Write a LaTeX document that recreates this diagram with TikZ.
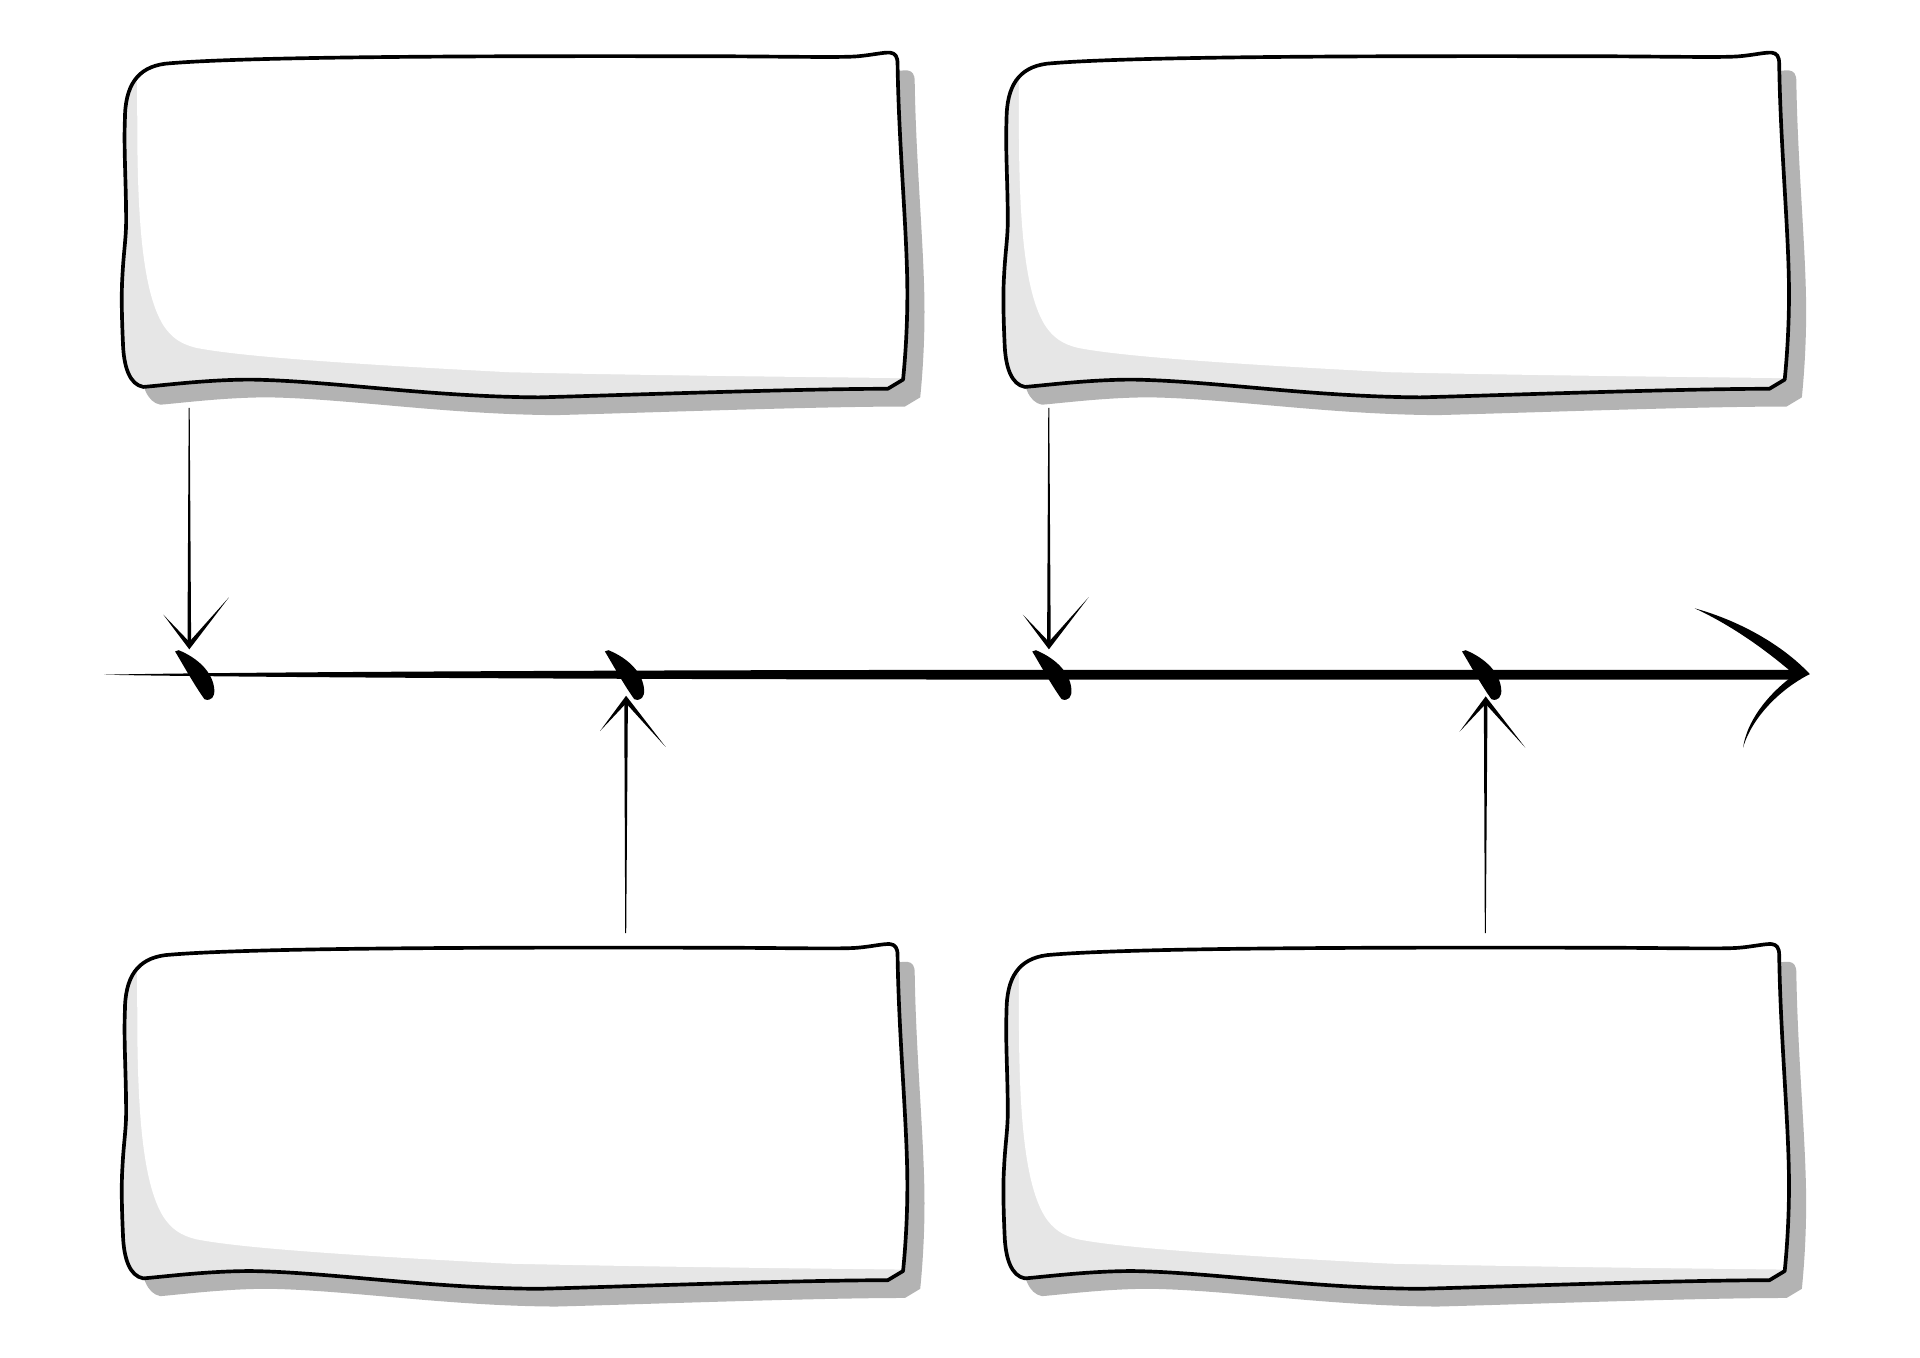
\documentclass[tikz,border=0pt]{standalone}
\usetikzlibrary{calc}
\definecolor{shadowgray}{HTML}{B3B3B3}
\definecolor{innergray}{HTML}{E6E6E6}
\def\boxoutline{(102,98) .. controls (102,70) and (112,55) .. (135,52) .. controls (200,46) and (400,45.5) .. (600,46) .. controls (650,46.3) and (688,47) .. (700,46) .. controls (712,45) and (722,42.5) .. (727,43) .. controls (731,43.5) and (733,46) .. (733,52) .. controls (734,120) and (741,190) .. (741,240) .. controls (741,270) and (739,295) .. (737.5,310) -- (725,317.5) .. controls (650,317.5) and (500,323) .. (440,324.5) .. controls (350,324) and (270,311) .. (205,310) .. controls (170,310) and (135,314.5) .. (117,316) .. controls (106,314) and (101,300) .. (100.4,280) .. controls (99.5,260) and (99,240) .. (100,225) .. controls (101,205) and (103,195) .. (103,180) .. controls (103,150) and (101,120) .. (102,98) -- cycle}
\def\whitearea{(111.8,30) -- (112.2,120) .. controls (113,190) and (118,240) .. (133,265) .. controls (140,276) and (148,281) .. (160,284) .. controls (190,290) and (260,296) .. (416,304) .. controls (550,307) and (680,308) .. (750,309) -- (750,30) -- cycle}
\def\tickshape{(143,532) .. controls (149,542) and (159,560) .. (167,571) .. controls (172.5,573) and (175.5,569) .. (175,563) .. controls (174,550) and (163,538) .. (146,531) -- cycle}
\newcommand\tlDown[2]{%
  \fill[ink] ($(#1)+(-0.4,0)$) -- ($(#1)+(0.4,0)$) -- ($(#2)+(1.5,-2)$) -- ($(#2)+(-1.5,-2)$) -- cycle;
  \fill[ink] ($(#2)+(-21.2,-27.5)$) -- ($(#2)+(0,-5.4)$) -- ($(#2)+(32.4,-41.7)$) -- ($(#2)+(0,0.8)$) -- cycle;}
\newcommand\tlUp[2]{%
  \fill[ink] ($(#1)+(-0.4,0)$) -- ($(#1)+(0.4,0)$) -- ($(#2)+(1.5,2)$) -- ($(#2)+(-1.5,2)$) -- cycle;
  \fill[ink] ($(#2)+(-21.3,28)$) -- ($(#2)+(0,5.4)$) -- ($(#2)+(32.3,41)$) -- ($(#2)+(0,-0.8)$) -- cycle;}
\tikzset{
  ink/.style={fill=black},
  boxshadow/.style={fill=shadowgray},
  boxinner/.style={fill=innergray},
  boxline/.style={draw=black, line width=3pt, line join=round}
}
\begin{document}
\begin{tikzpicture}[x=1pt,y=-1pt]
\useasboundingbox (0,0) rectangle (1568,1109);
\fill[white] (0,0) rectangle (1568,1109);
% boxes
\foreach \bx/\by in {0/0,720/0,0/728,720/728}{
  \begin{scope}[shift={(\bx,\by)}]
    \fill[boxshadow, shift={(14,14.5)}] \boxoutline;
    \fill[boxinner] \boxoutline;
    \begin{scope}
      \clip \boxoutline;
      \fill[white] \whitearea;
    \end{scope}
    \path[boxline] \boxoutline;
  \end{scope}
}
% timeline
\fill[ink] (85,551) .. controls (180,549) and (480,547.2) .. (850,547) -- (1470,547) -- (1470,555) -- (850,555) .. controls (480,554.8) and (180,553) .. (85,551) -- cycle;
\fill[ink] (1384,496.8) .. controls (1421,507) and (1456,527) .. (1478,550.5)
  .. controls (1455,562) and (1431,585) .. (1423.5,610.5)
  .. controls (1426.5,590) and (1442,568) .. (1465.5,551)
  .. controls (1446,534) and (1417,512) .. (1384,496.8) -- cycle;
% ticks
\foreach \dx in {0,351,700,1051}{
  \fill[ink, shift={(\dx,0)}] \tickshape;
}
% arrows
\coordinate (d1s) at (154.5,333);
\coordinate (d1t) at (154.6,529.5);
\coordinate (d2s) at (856.5,333);
\coordinate (d2t) at (856.6,529.5);
\coordinate (u1s) at (511,762);
\coordinate (u1t) at (511.3,569);
\coordinate (u2s) at (1213,762);
\coordinate (u2t) at (1213.3,569.5);
\tlDown{d1s}{d1t}
\tlDown{d2s}{d2t}
\tlUp{u1s}{u1t}
\tlUp{u2s}{u2t}
\end{tikzpicture}
\end{document}
